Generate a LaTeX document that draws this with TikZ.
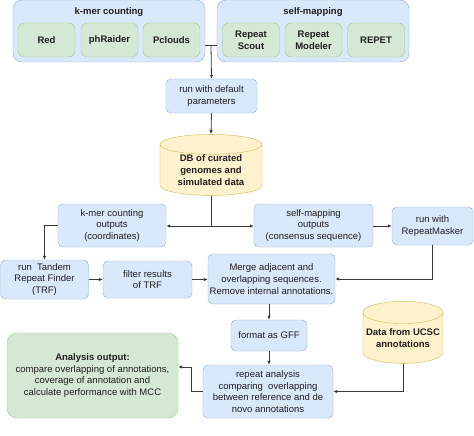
\documentclass[tikz,border=0pt]{standalone}
\usepackage{fontspec}
\setmainfont{Liberation Sans}
\usetikzlibrary{arrows.meta,positioning,shapes.geometric}
\definecolor{boxblue}{HTML}{DAE8FC}
\definecolor{lineblue}{HTML}{8EAADB}
\definecolor{boxgreen}{HTML}{D5E8D4}
\definecolor{linegreen}{HTML}{A3C795}
\definecolor{boxyellow}{HTML}{FFF2CC}
\definecolor{lineyellow}{HTML}{D6B656}
\definecolor{wire}{HTML}{3A3A3A}
\tikzset{
  txt/.style={align=center,inner sep=0pt,text=black!88,font=\fontsize{9.5}{11.7}\selectfont},
  blk/.style={txt,draw=lineblue,fill=boxblue,rounded corners=5pt},
  grp/.style={blk,rounded corners=9pt},
  tool/.style={txt,draw=linegreen,fill=boxgreen,rounded corners=6pt,
    font=\fontsize{9.5}{11.7}\selectfont\bfseries,minimum width=57pt,minimum height=34pt},
  store/.style={txt,cylinder,shape border rotate=90,aspect=0.3,draw=lineyellow,fill=boxyellow,
    font=\fontsize{9.5}{11.7}\selectfont\bfseries},
  link/.style={draw=wire,line width=0.8pt},
}

\begin{document}
\begin{tikzpicture}[x=1pt,y=-1pt,>={Latex[length=4pt,width=3.5pt]}]
    \useasboundingbox (0,0) rectangle (474,436);
    % tool groups
    \node[grp,minimum width=192pt,minimum height=62pt] (kgroup) at (109,31) {};
    \node[grp,minimum width=192pt,minimum height=62pt] (sgroup) at (313,31) {};
    \node[txt,font=\fontsize{9.5}{11.7}\selectfont\bfseries] (ktitle) at (109,12) {k-mer counting};
    \node[txt,font=\fontsize{9.5}{11.7}\selectfont\bfseries] (stitle) at (313,12) {self-mapping};
    \foreach \n/\x/\t in {red/46.5/{Red},phraider/109.5/{phRaider},pclouds/171.5/{Pclouds},
        rscout/251/{Repeat\\Scout},rmodeler/313.5/{Repeat\\Modeler},repet/376/{REPET}}
    {
        \node[tool] (\n) at (\x,40) {\t};
    }
    % pipeline
    \node[blk,minimum width=91pt,minimum height=34pt] (default) at (211.5,96) {run with default\\parameters};
    \node[store,minimum width=102pt,minimum height=61pt] (db) at (211,170) {DB of curated\\genomes and\\simulated data};
    \node[blk,minimum width=108pt,minimum height=43pt] (kout) at (112,225.5) {k-mer counting\\outputs\\(coordinates)};
    \node[blk,minimum width=119pt,minimum height=43pt] (sout) at (313.5,225.5) {self-mapping\\outputs\\(consensus sequence)};
    \node[blk,minimum width=81pt,minimum height=38pt] (rmask) at (432.5,226) {run with\\RepeatMasker};
    \node[blk,minimum width=88pt,minimum height=39pt] (trf) at (44.5,279.5) {run\ \ Tandem\\Repeat Finder\\(TRF)};
    \node[blk,minimum width=89pt,minimum height=37pt] (filter) at (147.5,279.5) {filter results\\of TRF};
    \node[blk,minimum width=127pt,minimum height=50pt] (merge) at (271.5,279) {Merge adjacent and\\overlapping sequences.\\Remove internal annotations.};
    \node[blk,minimum width=76pt,minimum height=31pt] (gff) at (269,335.5) {format as GFF};
    \node[store,minimum width=80pt,minimum height=62pt] (ucsc) at (403,338) {Data from UCSC\\annotations};
    \node[blk,minimum width=130pt,minimum height=53pt] (rana) at (268,391.5) {repeat analysis\\comparing\ \ overlapping\\between reference and de\\novo annotations};
    \node[txt,draw=linegreen,fill=boxgreen,rounded corners=10pt,minimum width=171pt,minimum height=85pt]
      (result) at (92.5,375.5) {\textbf{Analysis output:}\\compare overlapping of annotations,\\coverage of annotation and\\calculate performance with MCC};
    % connectors
    \coordinate (join) at (211,45);
    \coordinate (split) at (211,226);
    \coordinate (bend) at (191,367);
    \draw[link] (kgroup.east |- join) -- (sgroup.west |- join);
    \draw[link,->] (join) -- (default.north);
    \draw[link,->] (default.south) -- (db.north);
    \draw[link] (db.south) -- (split);
    \draw[link,->] (split) -- (kout.east |- split);
    \draw[link,->] (split) -- (sout.west |- split);
    \draw[link,->] (sout.east |- split) -- (rmask.west |- split);
    \draw[link,->] (kout.west) -| (trf.north);
    \draw[link,->] (trf.east) -- (filter.west);
    \draw[link,->] (filter.east) -- (merge.west |- filter.east);
    \draw[link,->] (rmask.south) |- (merge.east);
    \draw[link,->] (gff.north |- merge.south) -- (gff.north);
    \draw[link,->] (gff.south) -- (gff.south |- rana.north);
    \draw[link,->] (ucsc.south) |- (rana.east);
    \draw[link,->] (rana.west) -| (bend) -- (bend -| result.east);
\end{tikzpicture}
\end{document}
